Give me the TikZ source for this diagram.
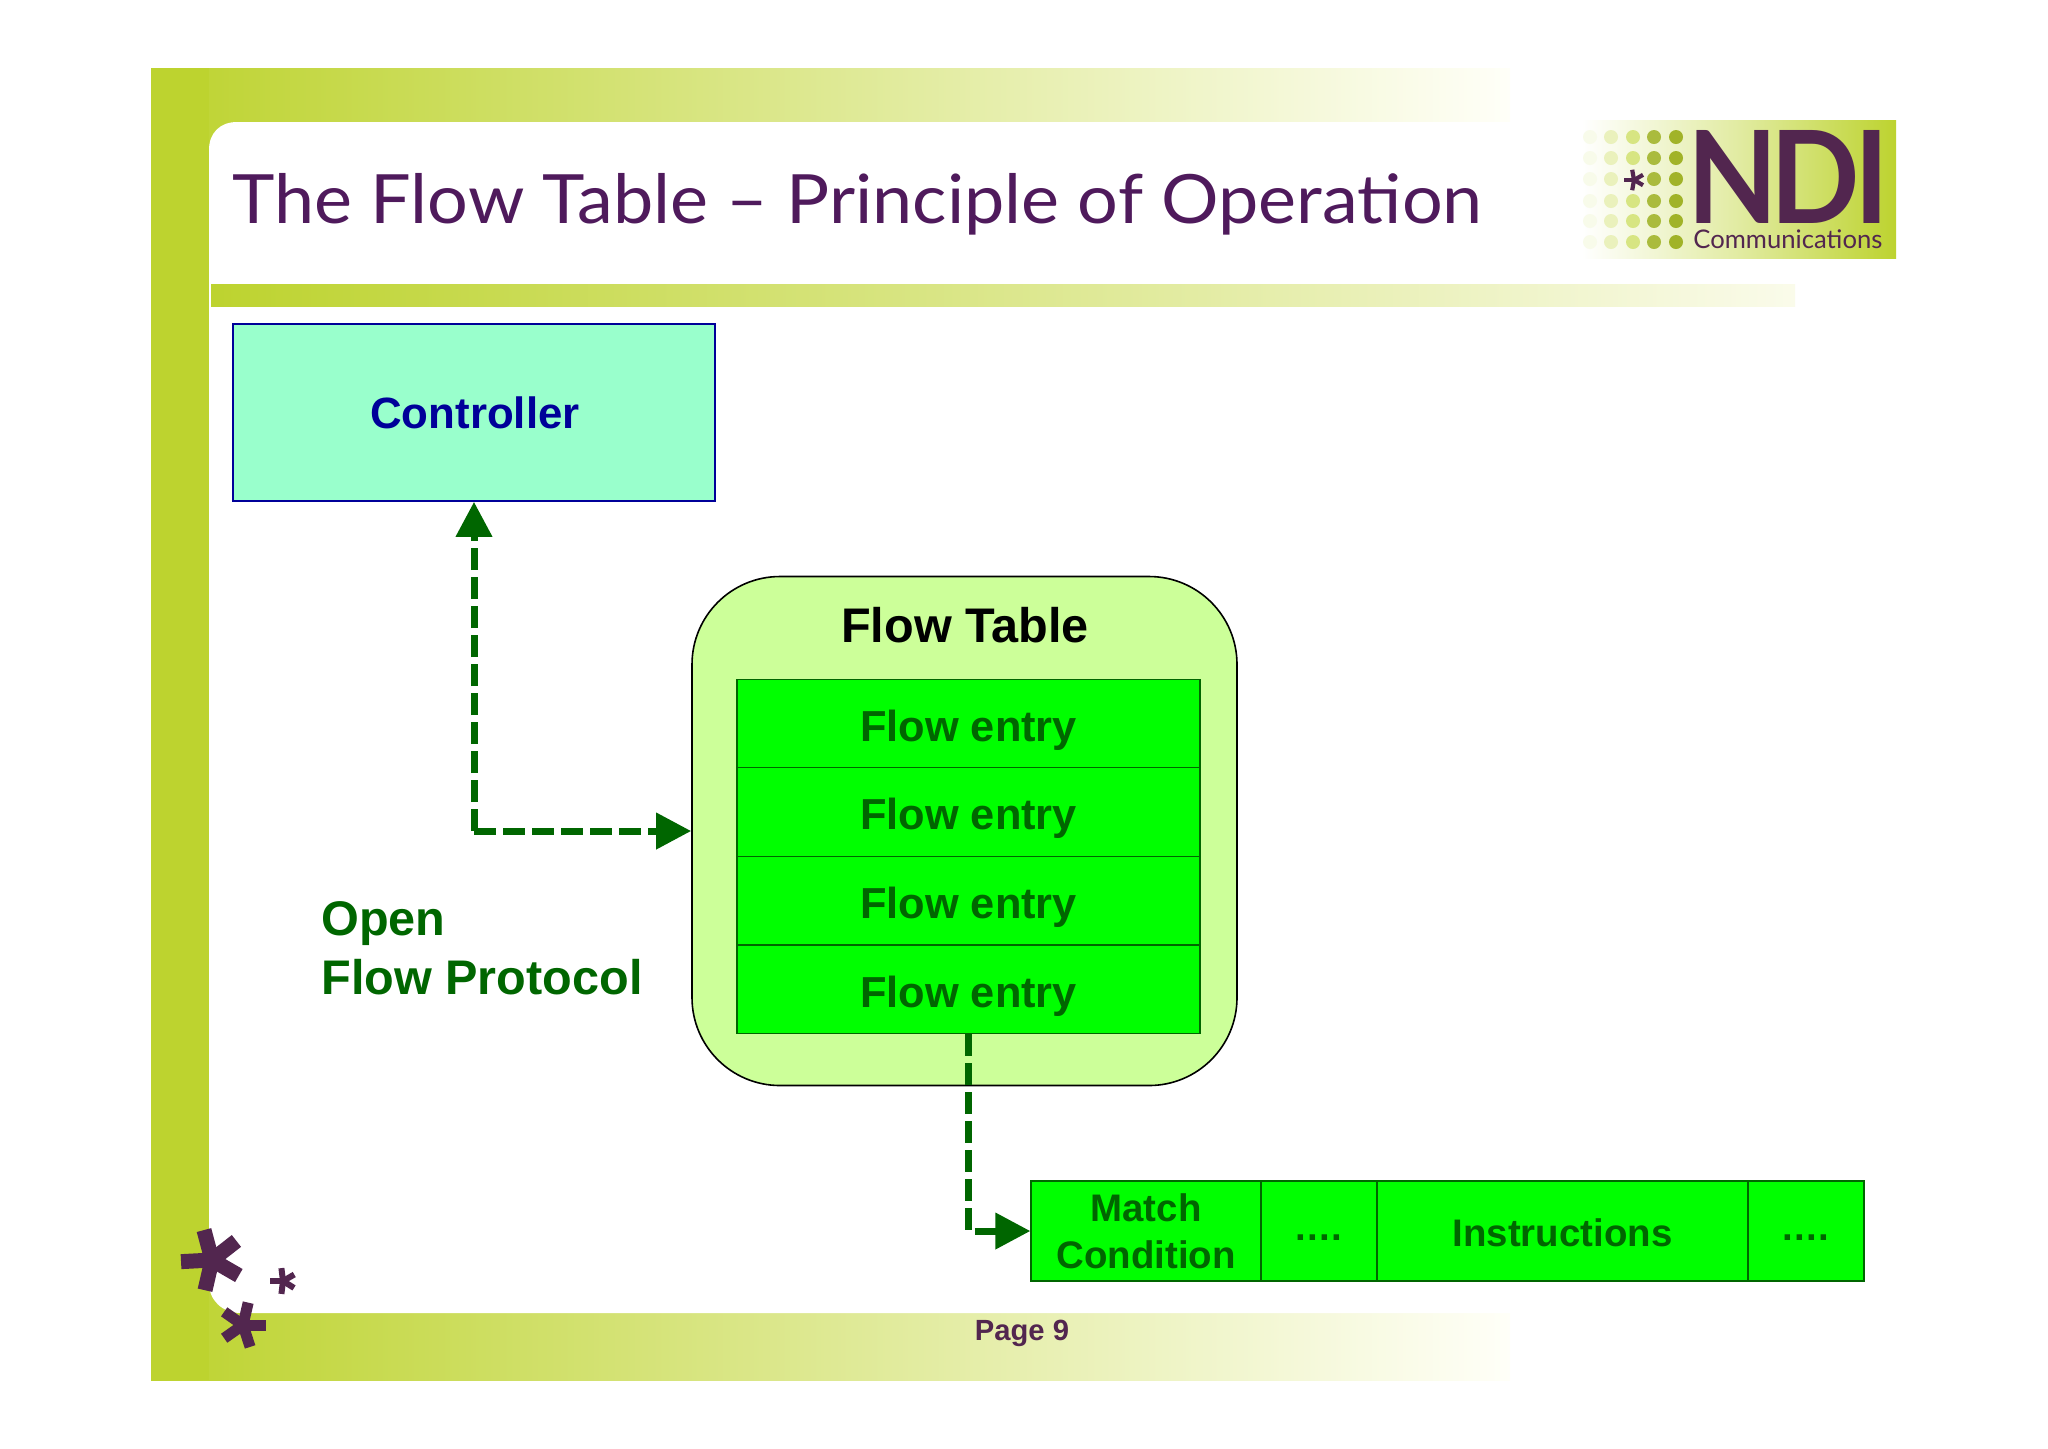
\documentclass[tikz,border=0pt]{standalone}
\usepackage{fontspec}
\usepackage{graphicx}
\usetikzlibrary{arrows.meta,calc}
\setmainfont{Liberation Sans}
\newfontfamily\titlefont{Lato}
\definecolor{ndigreen}{HTML}{BDD32F}
\definecolor{ndipale}{HTML}{FAFBEA}
\definecolor{ndifade}{HTML}{FFFFF8}
\definecolor{ndiplum}{HTML}{52264F}
\definecolor{titleplum}{HTML}{4F1A5C}
\definecolor{flowdark}{HTML}{006600}
\definecolor{ctrlfill}{HTML}{99FFCC}
\definecolor{ctrlblue}{HTML}{000099}
\definecolor{tablefill}{HTML}{CCFF99}
\definecolor{entryfill}{HTML}{00FF00}
\tikzset{
  x=0.5pt,y=-0.5pt,
  ctrlbox/.style={draw=ctrlblue,line width=0.8pt,fill=ctrlfill,text=ctrlblue,font=\fontsize{21.9}{26}\selectfont\bfseries,minimum width=241pt,minimum height=88.5pt,inner sep=0pt},
  tablebox/.style={draw=black,line width=0.8pt,fill=tablefill,rounded corners=44pt,minimum width=272.5pt,minimum height=254.5pt,inner sep=0pt},
  entrybox/.style={draw=flowdark,line width=0.6pt,fill=entryfill,text=flowdark,font=\fontsize{21.7}{26}\selectfont\bfseries,minimum width=231.5pt,minimum height=44.25pt,inner sep=0pt,text height=17.8pt,text depth=0pt},
  cellbox/.style={draw=flowdark,line width=0.6pt,fill=entryfill,text=flowdark,font=\fontsize{19.2}{23.5}\selectfont\bfseries,minimum height=50pt,inner sep=0pt,align=center},
  flowlink/.style={draw=flowdark,line width=3.5pt,dash pattern=on 11pt off 3.5pt},
  flowtip/.style={-{Triangle[length=17.5pt,width=17.5pt]}},
  logodot/.style={circle,inner sep=0pt,minimum size=7pt},
  logotext/.style={text=ndiplum,inner sep=0pt,font=\titlefont},
}
\newcommand{\starmark}[4]{% centre, arm length, arm width, angles
  \foreach \a in {#4}{\draw[ndiplum,line width=#3pt] (#1) -- ++(\a:#2pt);}
  \fill[ndiplum] (#1) circle[radius=#3*0.55pt];
}
\begin{document}
\begin{tikzpicture}
\useasboundingbox (0,0) rectangle (2048,1448);
\fill[white] (0,0) rectangle (2048,1448);
% frame
\shade[left color=ndigreen,right color=ndifade,middle color=ndigreen!50!ndifade] (151,68) rectangle (1510,1380);
\fill[ndigreen] (151,68) rectangle (209,1380);
\fill[white] (2048,122) -- (237,122) .. controls (220,122) and (209,133) .. (209,150) -- (209,1283) .. controls (209,1300) and (222,1313) .. (241,1313) -- (2048,1313) -- cycle;
% title rule
\shade[left color=ndigreen,right color=ndipale,middle color=ndigreen!50!ndipale] (211,284) rectangle (1795,306);
% logo
\shade[left color=white,right color=ndigreen,middle color=ndigreen!45!white] (1582,120) rectangle (1896,258);
\foreach \cx/\cc/\rows in {1590/ndigreen!10!white/{137,158,179,201,221,242},1611/ndigreen!32!white/{137,158,179,201,221,242},1633/ndigreen!60!white/{137,158,201,221,242},1654/ndigreen!85!black!90!white/{137,158,179,201,221,242},1676/ndigreen!85!black/{137,158,179,201,221,242}}{
  \foreach \cy in \rows{
    \node[logodot,fill=\cc] at (\cx,\cy) {};
  }
}
\starmark{1634,180}{5.2}{2.1}{100,30,-30,-100,180}
\node[logotext,anchor=base west] (logoNDI) at (1687,223) {\resizebox{101pt}{46.5pt}{\bfseries N\kern-0.7pt D\kern-0.4pt I}};
\node[logotext,anchor=base west] (logoC) at (1693,248) {\resizebox{94.5pt}{!}{\fontsize{14}{16}\selectfont Communications}};
% title
\node[anchor=base west,inner sep=0pt,text=titleplum,font=\titlefont\fontsize{34}{40}\selectfont] (title) at (232,223) {\resizebox{625pt}{\height}{The Flow Table – Principle of Operation}};
% asterisks
\starmark{212,1260}{15.5}{7.5}{105,38,-30,-103,183}
\starmark{243,1325}{11.5}{5.5}{77,0,-72,-145,145}
\starmark{283,1281}{6.5}{3}{97,30,-32,-97,180}
% page number
\node[text=ndiplum,font=\fontsize{14.6}{18}\selectfont\bfseries,inner sep=0pt] (page) at (1022,1333.5) {Page 9};
% nodes
\node[ctrlbox] (ctrl) at (474,412.5) {\hspace{1pt}Controller};
\node[tablebox] (table) at (964.5,831) {};
\node[font=\fontsize{24.3}{28}\selectfont\bfseries,inner sep=0pt] (tabletitle) at (965,625) {Flow Table};
\node[entrybox] (e1) at (968.5,723.5) {Flow entry};
\node[entrybox] (e2) at (968.5,812) {Flow entry};
\node[entrybox] (e3) at (968.5,900.5) {Flow entry};
\node[entrybox] (e4) at (968.5,989.5) {Flow entry};
\node[cellbox,minimum width=115pt] (match) at (1146,1231) {Match\\Condition};
\node[cellbox,minimum width=58pt,text height=9.7pt,text depth=0pt] (c2) at (1319,1231) {.\kern0.7pt.\kern0.7pt.\kern0.7pt.};
\node[cellbox,minimum width=185.5pt,text height=15pt,text depth=0pt] (instr) at (1562.5,1231) {Instructions};
\node[cellbox,minimum width=58pt,text height=9.7pt,text depth=0pt] (c4) at (1806,1231) {.\kern0.7pt.\kern0.7pt.\kern0.7pt.};
\node[text=flowdark,font=\fontsize{24.3}{29.4}\selectfont\bfseries,align=left,anchor=west,inner sep=0pt] (proto) at (321,948) {Open\\Flow Protocol};
% connectors
\coordinate (bend) at (ctrl.south |- table.west);
\draw[flowlink,flowtip] (bend) -- (ctrl.south);
\draw[flowlink,flowtip] (bend) -- (table.west);
\draw[flowlink,flowtip] (e4.south) |- (match.west);
\end{tikzpicture}
\end{document}
